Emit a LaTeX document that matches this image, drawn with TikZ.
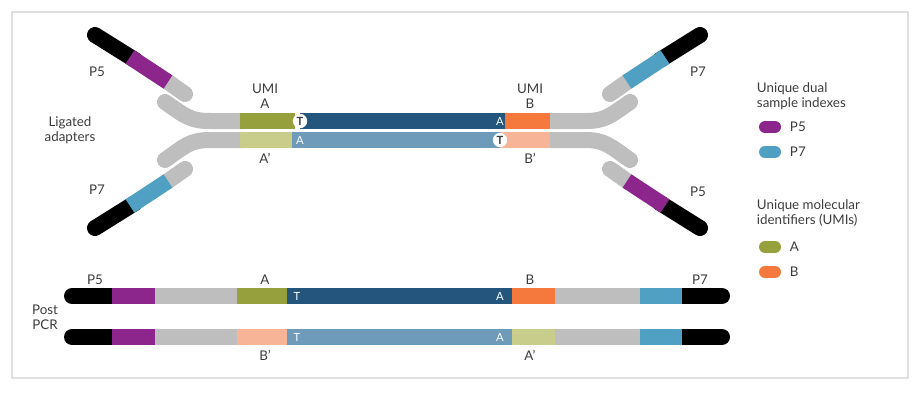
\documentclass[tikz,border=0pt]{standalone}
\usepackage{fontspec}
\setmainfont{Lato}
\usetikzlibrary{positioning}
\definecolor{strandgray}{RGB}{190,190,190}
\definecolor{pfivepurple}{RGB}{140,38,140}
\definecolor{psevenblue}{RGB}{80,160,195}
\definecolor{umiolive}{RGB}{150,160,60}
\definecolor{umiolivelt}{RGB}{200,205,140}
\definecolor{umiorange}{RGB}{245,120,60}
\definecolor{umisalmon}{RGB}{248,180,150}
\definecolor{insertdark}{RGB}{35,85,125}
\definecolor{insertlight}{RGB}{110,155,185}
\definecolor{labelgray}{RGB}{60,60,60}

\begin{document}
\begin{tikzpicture}[
    x=0.025cm, y=-0.025cm,
    every node/.style={font=\fontsize{9.5}{11}\selectfont, text=labelgray},
    seg/.style={line width=0.4cm},
    tip/.style={line width=0.4cm, line cap=round},
    base/.style={circle, fill=white, inner sep=0pt, minimum size=0.36cm, font=\fontsize{8}{9}\selectfont\bfseries},
    swatch/.style={line width=0.3cm, line cap=round}
]

    % Frame
    \useasboundingbox (0,0) rectangle (922,402);
    \draw[black!12, line width=1pt] (12,12) rectangle (908,378);

    % Diagonal adapter arms
    \draw[tip, black] (95,35) -- (135,60);
    \draw[tip, strandgray] (168,82) -- (185,94);
    \draw[seg, pfivepurple] (130,57) -- (168,82);
    \draw[tip, black] (95,228) -- (135,203);
    \draw[tip, strandgray] (168,181) -- (185,169);
    \draw[seg, psevenblue] (130,206) -- (168,181);
    \draw[tip, black] (700,35) -- (660,60);
    \draw[tip, strandgray] (627,82) -- (610,94);
    \draw[seg, psevenblue] (665,57) -- (627,82);
    \draw[tip, black] (700,228) -- (660,203);
    \draw[tip, strandgray] (627,181) -- (610,169);
    \draw[seg, pfivepurple] (665,206) -- (627,181);

    % Ligated fragment, top strand
    \draw[tip, strandgray] (165,102) .. controls (185,116) and (190,121) .. (210,121) -- (245,121);
    \draw[tip, strandgray] (630,102) .. controls (610,116) and (605,121) .. (585,121) -- (550,121);
    \draw[seg, umiolive] (240,121) -- (295,121);
    \draw[seg, insertdark] (300,121) -- (505,121);
    \draw[seg, umiorange] (505,121) -- (550,121);
    \node[base] (tt) at (300,121) {T};
    \node[text=white, font=\fontsize{8}{9}\selectfont] (ta) at (500,121) {A};

    % Ligated fragment, bottom strand
    \draw[tip, strandgray] (165,160) .. controls (185,146) and (190,140) .. (210,140) -- (245,140);
    \draw[tip, strandgray] (630,160) .. controls (610,146) and (605,140) .. (585,140) -- (550,140);
    \draw[seg, umiolivelt] (240,140) -- (295,140);
    \draw[seg, insertlight] (292,140) -- (500,140);
    \draw[seg, umisalmon] (500,140) -- (550,140);
    \node[base] (bt) at (500,140) {T};
    \node[text=white, font=\fontsize{8}{9}\selectfont] (ba) at (300,140) {A};

    % Ligated labels
    \node (p5tl) at (97,72) {P5};
    \node (p7bl) at (97,190) {P7};
    \node (p7tr) at (698,72) {P7};
    \node (p5br) at (698,192) {P5};
    \node[align=center] (lig) at (70,130) {Ligated\\adapters};
    \node[align=center] (umia) at (265,96) {UMI\\A};
    \node[align=center] (umib) at (530,96) {UMI\\B};
    \node (ap) at (265,158) {A’};
    \node (bp) at (530,158) {B’};

    % Post PCR strands
    \foreach \yy/\umil/\ins/\umir in {296/umiolive/insertdark/umiorange, 337/umisalmon/insertlight/umiolivelt} {
        \draw[tip, black] (72,\yy) -- (115,\yy);
        \draw[tip, black] (680,\yy) -- (722,\yy);
        \draw[seg, pfivepurple] (112,\yy) -- (155,\yy);
        \draw[seg, strandgray] (155,\yy) -- (237,\yy);
        \draw[seg, \umil] (237,\yy) -- (287,\yy);
        \draw[seg, \ins] (287,\yy) -- (512,\yy);
        \draw[seg, \umir] (512,\yy) -- (555,\yy);
        \draw[seg, strandgray] (555,\yy) -- (640,\yy);
        \draw[seg, psevenblue] (640,\yy) -- (682,\yy);
        \node[text=white, font=\fontsize{8}{9}\selectfont] at (297,\yy) {T};
        \node[text=white, font=\fontsize{8}{9}\selectfont] at (500,\yy) {A};
    }
    \node[align=center] (pcr) at (45,317) {Post\\PCR};
    \node (pcrp5) at (95,280) {P5};
    \node (pcra) at (265,280) {A};
    \node (pcrb) at (530,280) {B};
    \node (pcrp7) at (700,280) {P7};
    \node (pcrbp) at (265,355) {B’};
    \node (pcrap) at (530,355) {A’};

    % Legend
    \node[align=left, anchor=west] (dual) at (752,96) {Unique dual\\sample indexes};
    \draw[swatch, pfivepurple] (765,127) -- (775,127);
    \node[anchor=west] (lp5) at (785,127) {P5};
    \draw[swatch, psevenblue] (765,152) -- (775,152);
    \node[anchor=west] (lp7) at (785,152) {P7};
    \node[align=left, anchor=west] (mol) at (752,213) {Unique molecular\\identifiers (UMIs)};
    \draw[swatch, umiolive] (765,247) -- (775,247);
    \node[anchor=west] (la) at (785,247) {A};
    \draw[swatch, umiorange] (765,272) -- (775,272);
    \node[anchor=west] (lb) at (785,272) {B};

\end{tikzpicture}
\end{document}
